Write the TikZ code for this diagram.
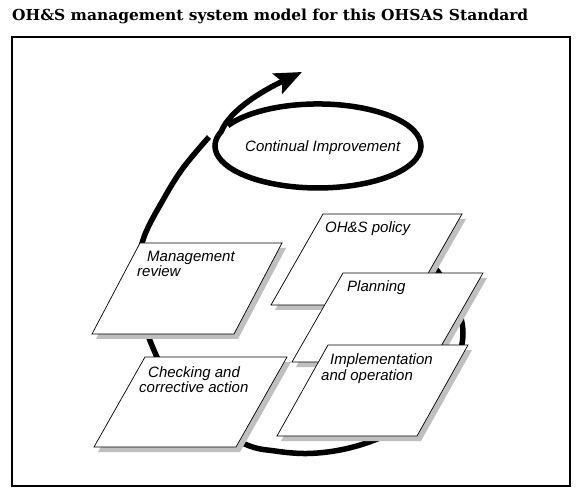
\documentclass[tikz,border=0pt]{standalone}
\usepackage{fontspec}
\setmainfont{Liberation Sans}
\newfontfamily\titlefont{DejaVu Serif}
\usetikzlibrary{arrows.meta}
\tikzset{
  boxline/.style={draw=black, line width=0.7pt, fill=white, line join=miter},
  shadowfill/.style={fill=black!25},
  flow/.style={line width=5.5pt, line cap=butt, draw=black},
  lbl/.style={anchor=base west, inner sep=0pt, font=\fontsize{15}{18}\selectfont\itshape},
}
\newcommand\pgram[6]{%
  \fill[shadowfill] (#2+4,#3+5) -- ++(#4,0) -- ++(-#5,#6) -- ++(-#4,0) -- cycle;
  \draw[boxline] (#2,#3) coordinate (#1) -- ++(#4,0) -- ++(-#5,#6) -- ++(-#4,0) -- cycle;
}
\begin{document}
\begin{tikzpicture}[x=1pt,y=-1pt]
\useasboundingbox (0,0) rectangle (581,494);
\fill[white] (0,0) rectangle (581,494);
% title
\node[anchor=base west, inner sep=0pt] (title) at (12,20.7)
  {\resizebox{516pt}{11.5pt}{\titlefont\bfseries OH\&S management system model for this OHSAS Standard}};
% frame
\draw[line width=2pt] (12,37.5) rectangle (570,486);
% big loop (behind the boxes)
\draw[flow] plot[smooth, tension=0.6] coordinates {
 (396,228) (418,250) (439,273) (455,300) (463,333) (455,366) (434,401)
 (404,426) (372,441) (340,450) (307,453.5) (275,451) (247,445) (206,423)
 (175,390) (153,348) (139,305) (138,270) (144,237) (163,200) (183,168) (209,137)};
% continual improvement spiral with arrow
\draw[flow, -{Stealth[length=27pt,width=22pt,inset=5pt]}]
  (227.9,125.6) arc[start angle=209, end angle=560, x radius=103, y radius=42]
  .. controls (230,110) and (262,91) .. (302,72);
% boxes
\pgram{mr}{140}{243}{142}{48}{91}
\pgram{ck}{145}{357}{142}{51}{90}
\pgram{pol}{323}{214}{139}{52}{91}
\pgram{pln}{343}{273}{140}{51}{89}
\pgram{imp}{328}{345}{140}{51}{91}
% labels
\node[lbl] (tci) at (245,152) {Continual Improvement};
\node[lbl] (tpol) at (325,233) {OH\&S policy};
\node[lbl] (tpln) at (347,292) {Planning};
\node[lbl] (timpa) at (330,364) {Implementation};
\node[lbl] (timpb) at (321,380) {and operation};
\node[lbl] (tmra) at (147,262) {Management};
\node[lbl] (tmrb) at (137,277) {review};
\node[lbl] (tcka) at (148,377) {Checking and};
\node[lbl] (tckb) at (139,392) {corrective action};
\end{tikzpicture}
\end{document}
